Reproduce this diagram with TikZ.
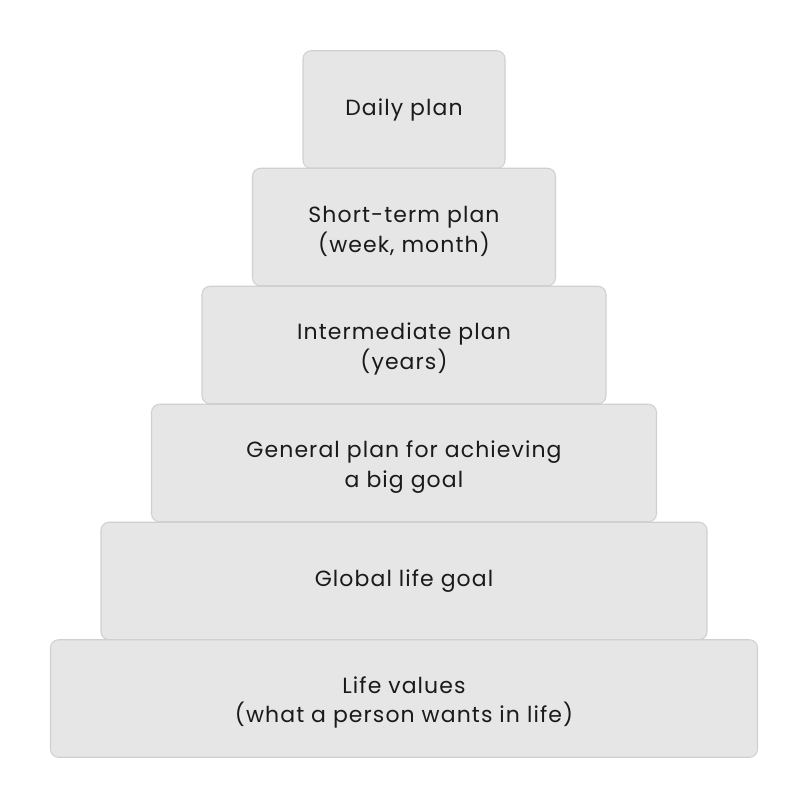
\documentclass[tikz,border=0pt]{standalone}
\usepackage{fontspec}
\setmainfont[LetterSpace=5]{Poppins}
\definecolor{stepfill}{HTML}{E6E6E6}
\definecolor{stepline}{HTML}{D0D0D0}
\definecolor{steptext}{HTML}{1A1A1A}
\begin{document}
\begin{tikzpicture}
    \tikzstyle{level}=[rectangle, rounded corners=0.16cm, fill=stepfill, draw=stepline, line width=0.6pt,
                       minimum height=2.35cm, align=center, text=steptext,
                       font=\fontsize{12.5}{17}\selectfont]
    \tikzstyle{twoline}=[align=center, text=steptext, font=\fontsize{12.5}{17}\selectfont, yshift=-0.08cm]
    \useasboundingbox (0,0) rectangle (16.16,-16.16);
    \node[level, minimum width=4.04cm]  (daily)   at (8.08,-2.19)  {Daily plan};
    \node[level, minimum width=6.06cm,
          label={[twoline]center:{Short-term plan\\(week, month)}}]        (short)   at (8.08,-4.54)  {};
    \node[level, minimum width=8.08cm,
          label={[twoline]center:{Intermediate plan\\(years)}}]            (inter)   at (8.08,-6.90)  {};
    \node[level, minimum width=10.10cm,
          label={[twoline]center:{General plan for achieving\\a big goal}}] (general) at (8.08,-9.26)  {};
    \node[level, minimum width=12.12cm] (global)  at (8.08,-11.62) {Global life goal};
    \node[level, minimum width=14.14cm,
          label={[twoline]center:{Life values\\(what a person wants in life)}}] (values) at (8.08,-13.97) {};

\end{tikzpicture}
\end{document}
